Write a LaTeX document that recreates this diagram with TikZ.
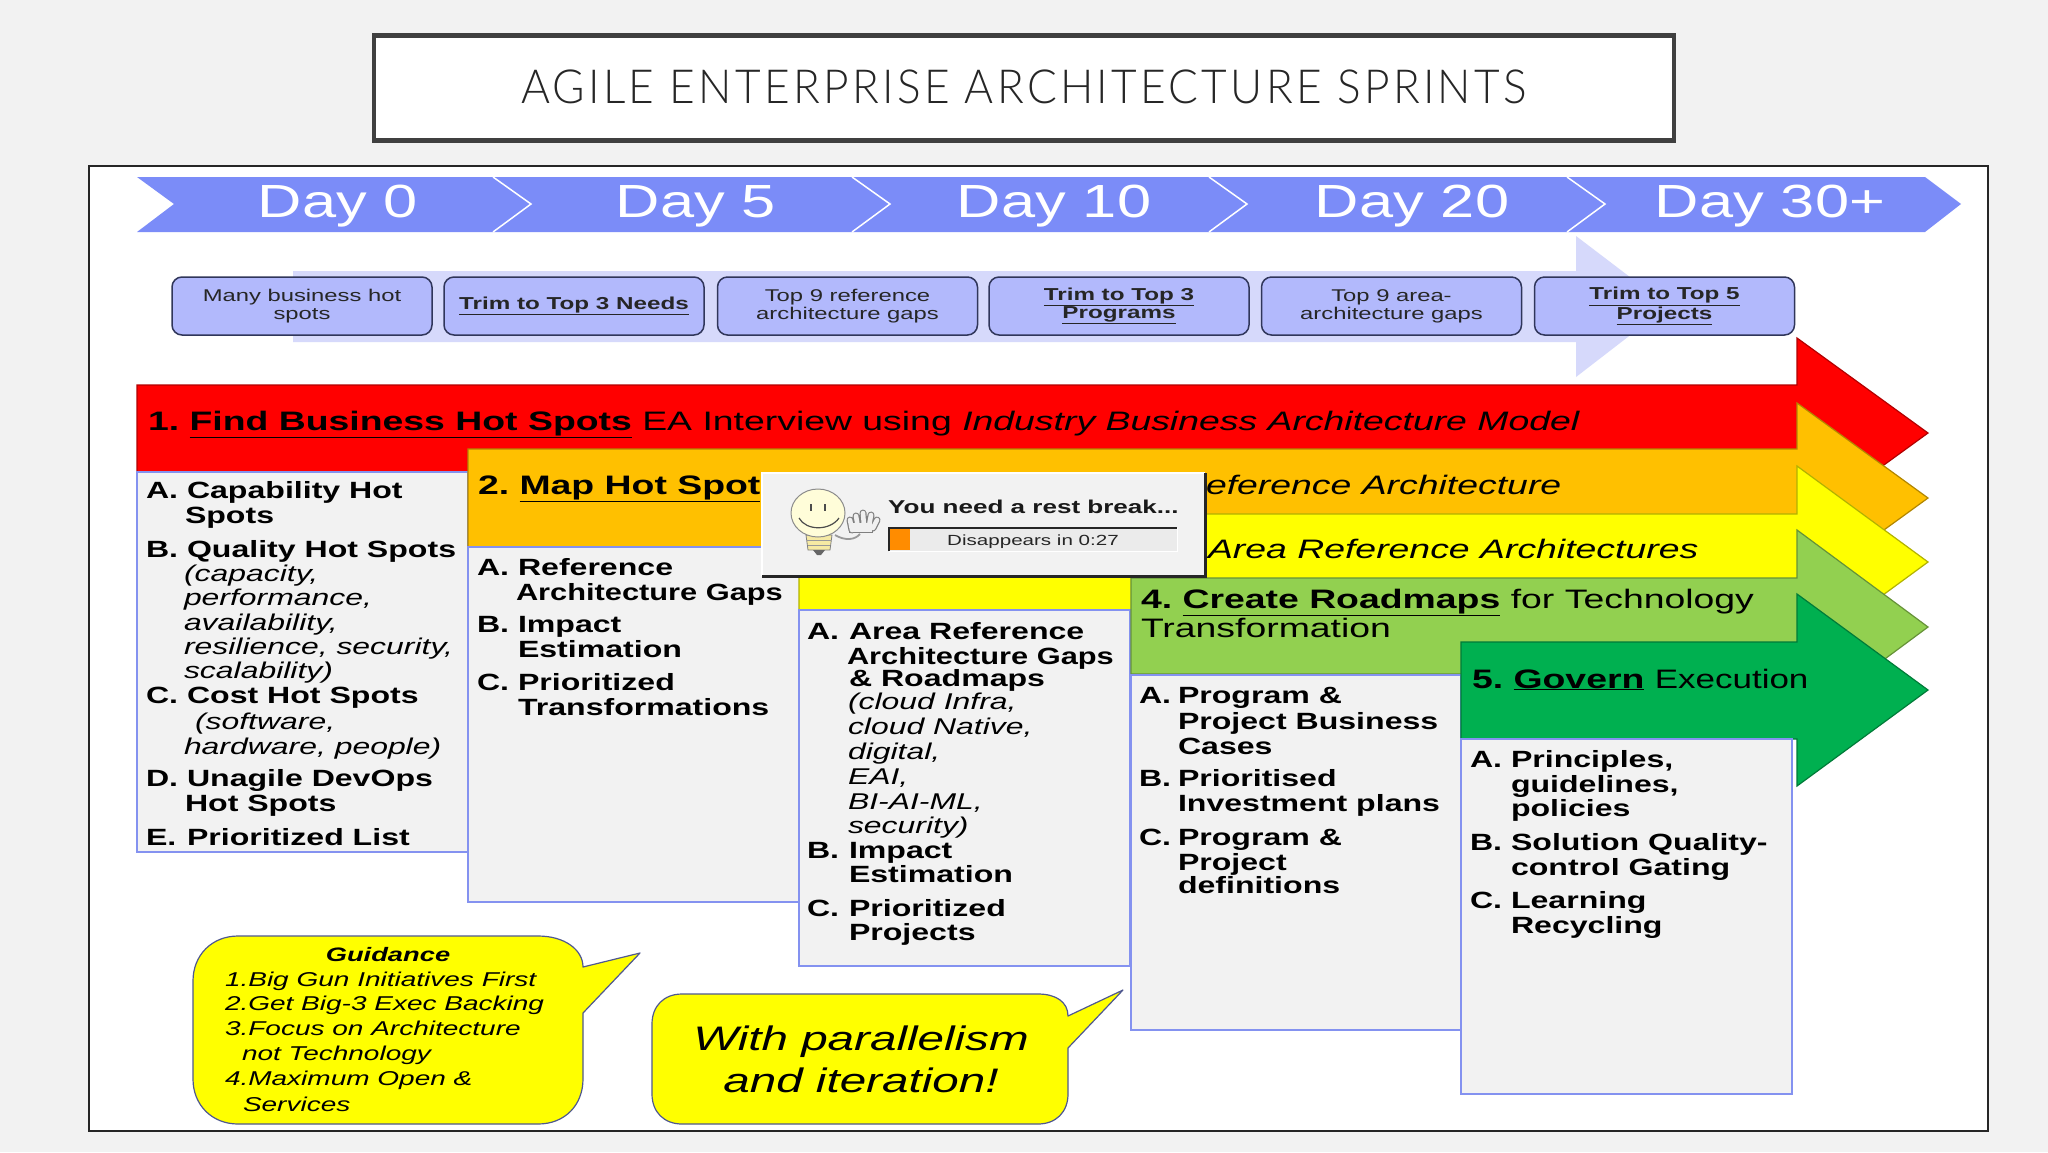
\documentclass[tikz,border=0pt]{standalone}
\usepackage{fontspec}
\setmainfont{Liberation Sans}
\newfontfamily\W[FakeStretch=1.4]{Liberation Sans}
\newfontfamily\Wp[FakeStretch=1.365]{Liberation Sans}
\newfontfamily\Wn[FakeStretch=1.31]{Liberation Sans}
\newfontfamily\Wd[FakeStretch=1.32]{Liberation Sans}
\newfontfamily\Ttl[LetterSpace=7,FakeStretch=0.94]{Lato Light}
\definecolor{bg}{HTML}{F2F2F2}
\definecolor{dayblue}{HTML}{7B8CF8}
\definecolor{lightarrow}{HTML}{D6D9FB}
\definecolor{boxblue}{HTML}{B2B9FC}
\definecolor{boxedge}{HTML}{30365A}
\definecolor{panedge}{HTML}{8492F0}
\definecolor{cred}{HTML}{FF0000}
\definecolor{corange}{HTML}{FFC000}
\definecolor{cyellow}{HTML}{FFFF00}
\definecolor{clime}{HTML}{92D050}
\definecolor{cgreen}{HTML}{00B050}
\newcounter{tn}
\tikzset{
  txt/.style={anchor=base west,inner sep=0pt,outer sep=0pt,text=black},
  pb/.style={font=\Wp\bfseries\fontsize{23.5}{25}\selectfont},
  pn/.style={font=\Wn\bfseries\fontsize{23.5}{25}\selectfont},
  pi/.style={font=\W\itshape\fontsize{22.8}{25}\selectfont},
  hd/.style={font=\W\fontsize{26.7}{29}\selectfont},
  cal/.style={font=\W\itshape\fontsize{20}{22}\selectfont},
  daytxt/.style={anchor=base,inner sep=0pt,text=white,font=\Wd\fontsize{46.5}{50}\selectfont},
  trimbox/.style={draw=boxedge,line width=1.5pt,fill=boxblue,rounded corners=10pt,minimum width=260pt,minimum height=58pt,
     inner sep=0pt,align=center,text=black!85,font=\W\fontsize{17}{18}\selectfont},
  trimbold/.style={font=\W\bfseries\fontsize{17.3}{18}\selectfont},
  arrowshape/.style={line width=1.2pt,draw=#1!70!black,fill=#1},
  panel/.style={draw=panedge,line width=1.3pt,fill=bg},
  bubble/.style={draw=black!40!panedge,line width=1.2pt,fill=cyellow,line join=round},
  finger/.style={line cap=round,line width=#1},
}
\newcommand\tline[3]{\stepcounter{tn}\node[txt,#1] (t\arabic{tn}) at #2 {#3};}
\begin{document}
\begin{tikzpicture}[x=1pt,y=-1pt]
\useasboundingbox (0,0) rectangle (2048,1152);
\fill[bg] (0,0) rectangle (2048,1152);
% title
\node[draw=black!75,line width=4.5pt,fill=white,minimum width=1300pt,minimum height=105pt,inner sep=0pt,text height=30pt,text depth=0pt,
      font=\Ttl\fontsize{47}{50}\selectfont,text=black!85] (title) at (1024,88) {AGILE ENTERPRISE ARCHITECTURE SPRINTS};
% panel
\draw[fill=white,draw=black!85,line width=1.5pt] (89,166) rectangle (1988,1131);
% day banner
\fill[dayblue] (137,177) -- (1925,177) -- (1961,204) -- (1925,232) -- (137,232) -- (174,204) -- cycle;
\foreach \a in {493,852,1209,1567}
  \draw[white,line width=1.5pt] (\a,177) -- (\a+38,204) -- (\a,232);
\node[daytxt] (d0) at (338,217) {Day 0};
\node[daytxt] (d1) at (696,217) {Day 5};
\node[daytxt] (d2) at (1054,217) {Day 10};
\node[daytxt] (d3) at (1412,217) {Day 20};
\node[daytxt] (d4) at (1770,217) {Day 30+};
% light arrow
\fill[lightarrow] (293,271) -- (1576,271) -- (1576,236) -- (1668,306) -- (1576,377) -- (1576,342) -- (293,342) -- cycle;
% trim boxes
\node[trimbox] (b1) at (302,306) {Many business hot\\spots};
\node[trimbox,trimbold] (b2) at (574,306) {\underline{Trim to Top 3 Needs}};
\node[trimbox] (b3) at (847.5,306) {Top 9 reference\\architecture gaps};
\node[trimbox,trimbold] (b4) at (1119,306) {\underline{Trim to Top 3}\\\underline{Programs}};
\node[trimbox] (b5) at (1391.5,306) {Top 9 area-\\architecture gaps};
\node[trimbox,trimbold] (b6) at (1664.5,306) {\underline{Trim to Top 5}\\\underline{Projects}};
% arrow 1 + panel
\draw[arrowshape=cred] (137,385) -- (1797,385) -- (1797,338) -- (1928,433) -- (1797,528) -- (1797,472) -- (137,472) -- cycle;
\draw[panel] (137,472) rectangle (468,852);
\tline{hd}{(148,430)}{\textbf{1.~\underline{Find Business Hot Spots}} EA Interview using \textit{Industry Business Architecture Model}}
% arrow 2 + panel
\draw[arrowshape=corange] (468,449) -- (1797,449) -- (1797,403) -- (1928,498) -- (1797,593) -- (1797,547) -- (468,547) -- cycle;
\draw[panel] (468,547) rectangle (800,902);
\tline{hd}{(478,494)}{\textbf{2.~\underline{Map Hot Spot}}}
\tline{hd}{(1206,494)}{\textit{eference Architecture}}
% arrow 3 + panel
\draw[arrowshape=cyellow] (799,514) -- (1797,514) -- (1797,466) -- (1928,562) -- (1797,658) -- (1797,610) -- (799,610) -- cycle;
\draw[panel] (799,610) rectangle (1130,966);
\tline{hd}{(1208,558)}{\textit{Area Reference Architectures}}
% arrow 4 + panel
\draw[arrowshape=clime] (1131,578) -- (1797,578) -- (1797,530) -- (1928,627) -- (1797,724) -- (1797,674) -- (1131,674) -- cycle;
\draw[panel] (1131,675) rectangle (1461,1030);
\tline{hd}{(1141,608)}{\textbf{4.~\underline{Create Roadmaps}} for Technology}
\tline{hd}{(1141,637)}{Transformation}
% arrow 5 + panel
\draw[arrowshape=cgreen] (1461,642) -- (1797,642) -- (1797,594) -- (1928,690) -- (1797,786) -- (1797,739) -- (1461,739) -- cycle;
\draw[panel] (1461,739) rectangle (1792,1094);
\tline{hd}{(1472,688)}{\textbf{5.~\underline{Govern}} {\Wn Execution}}
% panel 1 text
\foreach \y/\s in {498/A.,557/B.,703/C.,786/D.,845/E.} {\tline{pb}{(146,\y)}{\s}}
\foreach \y/\s in {498/Capability Hot,557/Quality Hot Spots,703/Cost Hot Spots,786/Unagile DevOps,845/Prioritized List} {\tline{pb}{(187,\y)}{\s}}
\foreach \y/\s in {523/Spots,811/Hot Spots} {\tline{pb}{(185,\y)}{\s}}
\foreach \y/\x/\s in {581/184/{(capacity,},605/184/{performance,},630/184/{availability,},654/184/{resilience, security,},678/184/{scalability)},729/195/{(software,},754/184/{hardware, people)}} {\tline{pi}{(\x,\y)}{\s}}
% panel 2 text
\foreach \y/\s in {575/A.,632/B.,690/C.} {\tline{pb}{(477,\y)}{\s}}
\foreach \y/\s in {575/Reference,632/Impact,657/Estimation,690/Prioritized,715/Transformations} {\tline{pb}{(518,\y)}{\s}}
\tline{pn}{(516,600)}{Architecture Gaps}
% panel 3 text
\foreach \y/\s in {639/A.,858/B.,916/C.} {\tline{pb}{(807,\y)}{\s}}
\foreach \y/\s in {639/Area Reference,686/\& Roadmaps,858/Impact,882/Estimation,916/Prioritized,940/Projects} {\tline{pb}{(849,\y)}{\s}}
\tline{pn}{(847,664)}{Architecture Gaps}
\foreach \y/\s in {709/{(cloud Infra,},734/{cloud Native,},759/{digital,},784/{EAI,},809/{BI-AI-ML,},833/{security)}} {\tline{pi}{(848,\y)}{\s}}
% panel 4 text
\foreach \y/\s in {703/A.,786/B.,845/C.} {\tline{pb}{(1139,\y)}{\s}}
\foreach \y/\s in {703/Program \&,729/Project Business,754/Cases,786/Prioritised,811/Investment plans,845/Program \&,870/Project,893/definitions} {\tline{pb}{(1178,\y)}{\s}}
% panel 5 text
\foreach \y/\s in {767/A.,850/B.,908/C.} {\tline{pb}{(1470,\y)}{\s}}
\foreach \y/\s in {767/{Principles,},792/{guidelines,},816/policies,850/Solution Quality-,875/control Gating,908/Learning,933/Recycling} {\tline{pb}{(1511,\y)}{\s}}
% popup
\fill[bg] (762,473) rectangle (1205,576);
\draw[white,line width=1.5pt] (762,576) -- (762,473) -- (1205,473);
\draw[black!85,line width=3pt] (1205,473) -- (1205,576) -- (762,576);
\draw[fill=black!8,draw=white,line width=1pt] (889,528) rectangle (1177,551);
\fill[orange!90!yellow] (890,529) rectangle (910,550);
\draw[black!85,line width=1.5pt] (889,551) -- (889,528) -- (1177,528);
\node[inner sep=0pt,anchor=base west,font=\W\bfseries\fontsize{18.6}{20}\selectfont,text=black!90] (pop1) at (888,513) {You need a rest break...};
\node[inner sep=0pt,anchor=base,font=\W\fontsize{14.7}{16}\selectfont,text=black!85] (pop2) at (1033,545) {Disappears in 0:27};
% bulb
\draw[black!50,line width=.8pt,fill=yellow!30!white!85!brown] (806,535) -- (832,535) -- (830,550) -- (808,550) -- cycle;
\draw[black!40,line width=.6pt] (807,540) -- (831,540) (808,545) -- (830,545);
\fill[black!60] (813,550) -- (825,550) -- (821,555) -- (817,555) -- cycle;
\draw[black!45,line width=1pt,fill=yellow!15!white] (818,513) ellipse (27pt and 24pt);
\draw[black!70,line width=2pt] (811,504) -- (811,511) (825,504) -- (825,511);
\draw[black!70,line width=1.2pt] (799,518) .. controls (806,531) and (830,531) .. (839,518);
\draw[black!40,line width=1.8pt] (835,535) .. controls (845,541) and (855,540) .. (860,534);
% hand
\draw[finger=7pt,black!50] (852,530) -- (850,520) (858,528) -- (856,516) (864,526) -- (863,513) (869,526) -- (871,515) (873,528) -- (877,520);
\fill[black!50] (849,522) rectangle (873,533);
\draw[finger=4.6pt,black!6] (852,530) -- (850,520) (858,528) -- (856,516) (864,526) -- (863,513) (869,526) -- (871,515) (873,528) -- (877,520);
\fill[black!6] (850.5,523) rectangle (872,532);
% callouts
\draw[bubble] (238,936) -- (538,936) .. controls (565,936) and (583,950) .. (583,967) -- (640,953) -- (583,1013) -- (583,1079) .. controls (583,1105) and (565,1124) .. (538,1124) -- (238,1124) .. controls (212,1124) and (193,1105) .. (193,1079) -- (193,981) .. controls (193,955) and (212,936) .. (238,936) -- cycle;
\draw[bubble] (682,994) -- (1038,994) .. controls (1056,994) and (1068,1002) .. (1068,1016) -- (1123,990) -- (1068,1048) -- (1068,1094) .. controls (1068,1112) and (1056,1124) .. (1038,1124) -- (682,1124) .. controls (664,1124) and (652,1112) .. (652,1094) -- (652,1024) .. controls (652,1006) and (664,994) .. (682,994) -- cycle;
\node[inner sep=0pt,anchor=base,font=\W\bfseries\itshape\fontsize{19.5}{22}\selectfont] (gd) at (388,961) {Guidance};
\foreach \y/\x/\s in {986/225/1.Big Gun Initiatives First,1010/225/2.Get Big-3 Exec Backing,1035/225/3.Focus on Architecture,1060/242/not Technology,1085/225/4.Maximum Open \&,1111/243/Services} {\tline{cal}{(\x,\y)}{\s}}
\node[inner sep=0pt,align=center,font=\W\itshape\fontsize{34}{42}\selectfont] (par) at (861,1059) {With parallelism\\and iteration!};
\end{tikzpicture}
\end{document}
